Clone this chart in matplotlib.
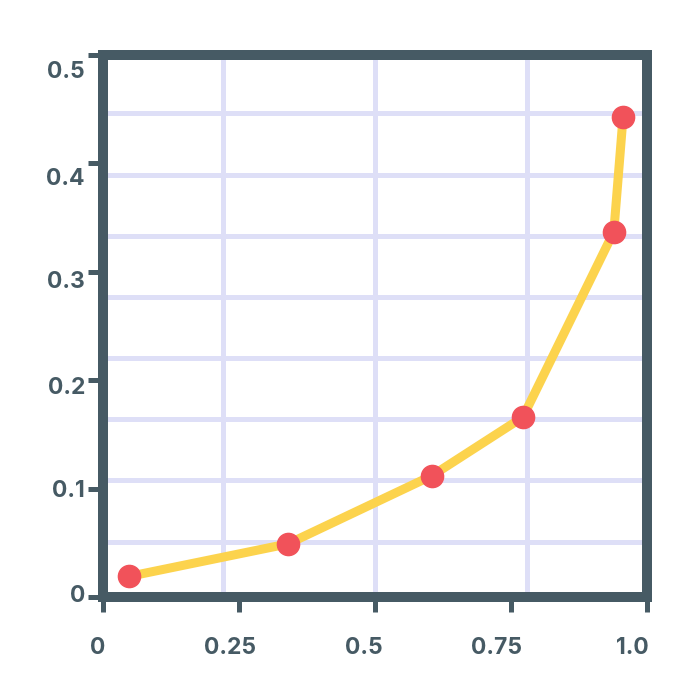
import matplotlib
matplotlib.use("Agg")
import matplotlib.pyplot as plt
from matplotlib.transforms import ScaledTranslation

# Data
x_vals = [0.048, 0.340, 0.605, 0.772, 0.939, 0.956]
y_vals = [0.019, 0.049, 0.112, 0.166, 0.337, 0.443]

x_ticks = [0, 0.25, 0.5, 0.75, 1.0]
x_tick_labels = ["0", "0.25", "0.5", "0.75", "1.0"]
y_ticks = [0, 0.1, 0.2, 0.3, 0.4, 0.5]
y_tick_labels = ["0", "0.1", "0.2", "0.3", "0.4", "0.5"]

x_grid = [0.2206, 0.5, 0.779]
y_grid = [0.0507, 0.108, 0.164, 0.2205, 0.277, 0.333, 0.389, 0.4465]

DARK = "#465a64"
GRID = "#dedff7"
LINE = "#fcd34d"
DOT = "#f1525a"

plt.rcParams['font.family'] = ['Inter', 'DejaVu Sans']

fig = plt.figure(figsize=(7, 7), dpi=100)
ax = fig.add_axes([103/700, 1 - 597/700, 544/700, 542/700])
ax.set_xlim(0, 1)
ax.set_ylim(0, 0.5)

for gx in x_grid:
    ax.axvline(gx, color=GRID, lw=3.6, zorder=1)
for gy in y_grid:
    ax.axhline(gy, color=GRID, lw=3.6, zorder=1)

ax.plot(x_vals, y_vals, color=LINE, lw=6.5, solid_capstyle='round',
        solid_joinstyle='round', zorder=3)
ax.plot(x_vals, y_vals, 'o', color=DOT, ms=16, mec=DOT, zorder=4, clip_on=False)

for s in ax.spines.values():
    s.set_color(DARK)
    s.set_linewidth(7.2)
    s.set_zorder(5)

ax.set_xticks(x_ticks)
ax.set_xticklabels(x_tick_labels)
ax.set_yticks(y_ticks)
ax.set_yticklabels(y_tick_labels)
ax.tick_params(axis='both', colors=DARK, width=3.6, direction='out')
ax.tick_params(axis='x', length=11, pad=18, labelsize=16.5)
ax.tick_params(axis='y', length=11, pad=2, labelsize=16.5)
for lab in ax.get_xticklabels() + ax.get_yticklabels():
    lab.set_fontweight('bold')
    lab.set_color(DARK)

x_off = [-5, -9, -11, -14, -15]
for lab, dx in zip(ax.get_xticklabels(), x_off):
    lab.set_transform(lab.get_transform() + ScaledTranslation(dx/100, 0, fig.dpi_scale_trans))
y_off = [3, 0, -5, -8, -13, -15]
for lab, dy in zip(ax.get_yticklabels(), y_off):
    lab.set_transform(lab.get_transform() + ScaledTranslation(0, dy/100, fig.dpi_scale_trans))

fig.savefig("out.png", dpi=100, facecolor="white")
